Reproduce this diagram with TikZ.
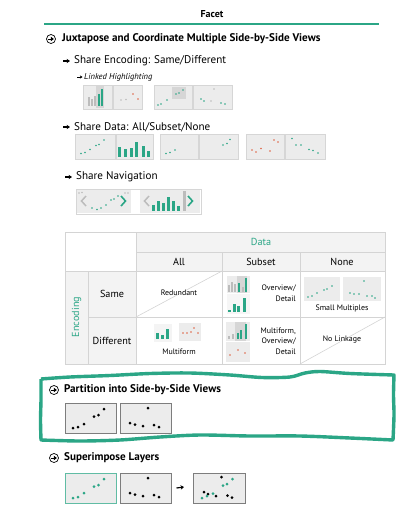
\documentclass[tikz,border=0pt]{standalone}
\usepackage{fontspec}
\setmainfont{PT Sans}
\usetikzlibrary{arrows.meta}
\definecolor{fgreen}{RGB}{43,166,134}
\definecolor{thumbbg}{RGB}{236,236,236}
\definecolor{thumbline}{RGB}{214,214,214}
\definecolor{hdrbg}{RGB}{243,243,243}
\definecolor{gridc}{RGB}{212,212,212}
\definecolor{orng}{RGB}{222,100,70}
\definecolor{ltg}{RGB}{188,188,188}
\definecolor{boxline}{RGB}{125,125,125}
\definecolor{hilite}{RGB}{214,214,214}
\tikzset{
  h1/.style={anchor=west,inner sep=0,font=\bfseries\fontsize{11.1}{13}\selectfont},
  h2/.style={anchor=west,inner sep=0,font=\fontsize{11.1}{13}\selectfont},
  tiny/.style={inner sep=0,font=\fontsize{7.9}{9}\selectfont},
  cellt/.style={inner sep=0,font=\fontsize{10.2}{12}\selectfont},
  panel/.style={fill=thumbbg,draw=thumbline,line width=0.6pt},
  bigbox/.style={fill=thumbbg,draw=boxline,line width=0.9pt},
  gridline/.style={draw=gridc,line width=0.6pt},
  icon/.style={line width=0.7pt},
  smallarrow/.style={-{Stealth[length=3.4pt,width=4.4pt]},line width=1.2pt}
}
\newcommand\circicon[2]{%
  \draw[icon] (#1,#2) circle (4.5);
  \draw[line width=0.8pt] (#1-2.6,#2) -- (#1+0.6,#2);
  \fill (#1+2.9,#2) -- (#1-0.2,#2-2.3) -- (#1-0.2,#2+2.3) -- cycle;}
\newcommand\dotset[3]{\foreach \p in {#3} \fill[#1] \p circle (#2);}
\begin{document}
\begin{tikzpicture}[x=1pt,y=-1pt]
\useasboundingbox (0,0) rectangle (416,523);
\fill[white] (0,0) rectangle (416,523);

% title
\node[inner sep=0,font=\bfseries\fontsize{10}{11}\selectfont] (title) at (212,14) {Facet};
\draw[fgreen,line width=1.1pt] (44,24) -- (379,24);

% Juxtapose
\circicon{51}{39}
\node[h1] (jux) at (62,39) {Juxtapose and Coordinate Multiple Side-by-Side Views};

% Share encoding
\draw[smallarrow] (63,61) -- (70,61);
\node[h2] (enc) at (74,61) {Share Encoding: Same/Different};
\draw[-{Stealth[length=2.6pt,width=3.2pt]},line width=0.9pt] (77,77) -- (82.5,77);
\node[inner sep=0,anchor=west,font=\itshape\fontsize{8.5}{9}\selectfont] (lh) at (84,77) {Linked Highlighting};

% linked highlighting box 1
\draw[panel] (83,85) rectangle (112.5,109);
\draw[panel] (113.5,85) rectangle (142,109);
\fill[hilite] (96,86) rectangle (104,108);
\foreach \x/\h in {88/9,91/7,94/10} \fill[ltg] (\x,106) rectangle ++(2,-\h);
\foreach \x/\h in {97.5/12,101/17} \fill[fgreen] (\x,106) rectangle ++(2.2,-\h);
\dotset{ltg}{0.9}{(121,100),(126,99.5)}
\dotset{orng}{0.9}{(133,94),(138,99)}
% linked highlighting box 2
\draw[panel] (154,85) rectangle (192.5,109);
\draw[panel] (193.5,85) rectangle (232,109);
\fill[hilite] (172,87) rectangle (186,99);
\dotset{fgreen}{0.9}{(158,105),(161,104),(167,100),(176,94),(179,93),(183,90)}
\dotset{fgreen}{0.9}{(201,99),(204,101),(221,103),(225,104)}
\dotset{ltg}{0.9}{(214,89),(211,101)}

% Share Data
\draw[smallarrow] (63,127) -- (70,127);
\node[h2] (data) at (74,127) {Share Data: All/Subset/None};
\draw[panel] (75,134) rectangle (115.5,159);
\draw[panel] (116.5,134) rectangle (153,159);
\dotset{fgreen}{0.9}{(81,153.5),(85,152.5),(90,149.5),(96,145.5),(99,144.5),(104,140)}
\foreach \x/\h in {118/10,124/7.7,130/9,135/15,141.5/10.7,147/6} \fill[fgreen] (\x,156.7) rectangle ++(3,-\h);
\draw[panel] (160,134) rectangle (198.5,159);
\draw[panel] (199.5,134) rectangle (238,159);
\dotset{fgreen}{0.9}{(166,153.5),(170,152.5),(175,150)}
\dotset{fgreen}{0.9}{(223,145),(227,143.5),(230,139.5)}
\draw[panel] (246,134) rectangle (284.5,159);
\draw[panel] (285.5,134) rectangle (325,159);
\dotset{orng}{0.9}{(252,150),(256,152),(261,148.5),(270,151),(274,140),(278,142)}
\dotset{fgreen}{0.9}{(292,138.5),(296,145),(301,145),(309,149.5),(313,150.5),(318,153)}

% Share Navigation
\draw[smallarrow] (65,177) -- (72,177);
\node[h2] (nav) at (76,177) {Share Navigation};
\draw[draw=thumbline,fill=white,line width=0.6pt] (76,189) rectangle (201,214);
\fill[thumbbg] (77,190) rectangle (131,213);
\fill[thumbbg] (140,190) rectangle (200,213);
\draw[ltg,line width=1.5pt] (86,196) -- (81.5,201) -- (86,206);
\draw[fgreen,line width=1.6pt] (121,196) -- (125.5,201) -- (121,206);
\dotset{ltg}{0.8}{(79,193),(82,192.5),(125,193),(128,193)}
\dotset{fgreen}{0.9}{(92,208),(97,209.5),(101,208),(106,205),(111,200),(114,199),(118,196)}
\draw[ltg,line width=1.5pt] (149,196) -- (144.5,201) -- (149,206);
\foreach \x/\h in {152/6,157/10,162/8,167/14,172/10,177/5} \fill[fgreen] (\x,211) rectangle ++(3,-\h);
\fill[ltg] (183,191) rectangle (186,211);
\draw[fgreen,line width=1.6pt] (188,196) -- (192.5,201) -- (188,206);

% Table
\fill[hdrbg] (136,232) rectangle (385,271);
\fill[hdrbg] (65,271) rectangle (136,364);
\draw[gridline] (65,232) rectangle (385,364);
\draw[gridline] (136,252) -- (385,252);
\draw[gridline] (65,271) -- (385,271);
\draw[gridline] (88,317) -- (385,317);
\draw[gridline] (136,232) -- (136,364);
\draw[gridline] (222,252) -- (222,364);
\draw[gridline] (300,252) -- (300,364);
\draw[gridline] (88,271) -- (88,364);
\draw[gridline] (136,317) -- (222,271);
\draw[gridline] (300,364) -- (385,317);
\node[cellt,text=fgreen] (tdata) at (261,242) {Data};
\node[cellt] (tall) at (179,262) {All};
\node[cellt] (tsub) at (261,262) {Subset};
\node[cellt] (tnone) at (342,262) {None};
\node[cellt,text=fgreen,rotate=90] (tenc) at (76.5,317) {Encoding};
\node[cellt] (tsame) at (112,294) {Same};
\node[cellt] (tdiff) at (112,341) {Different};
\node[tiny] (tred) at (179,293) {Redundant};
% same/subset
\fill[thumbbg] (227,276) rectangle (250,293);
\fill[hilite] (237,276) rectangle (247,293);
\foreach \x/\h in {228/7,231/10,234/8,242/5} \fill[ltg] (\x,292) rectangle ++(2,-\h);
\foreach \x/\h in {238/9,245/14} \fill[fgreen] (\x,292) rectangle ++(2,-\h);
\fill[thumbbg!50] (227,294) rectangle (250,314);
\foreach \x/\h in {228/2.5,233/8,237/6,243/14} \fill[fgreen] (\x,312) rectangle ++(2.5,-\h);
\node[tiny,anchor=east] (tov1) at (296,288) {Overview/};
\node[tiny,anchor=east] (tdet1) at (296,299) {Detail};
% same/none
\fill[thumbbg] (304,277) rectangle (340,301);
\fill[thumbbg] (343,277) rectangle (381,301);
\dotset{fgreen}{0.8}{(308,297),(312,296),(317,293),(324,290),(327,289),(332,286)}
\dotset{fgreen}{0.8}{(364,281),(350,293),(354,294),(359,294),(367,296),(372,296),(375,298)}
\node[tiny] (tsm) at (342,308) {Small Multiples};
% different/all
\fill[thumbbg!60] (154,324) rectangle (172,342);
\foreach \x/\h in {156/6,161/4.5,166/10} \fill[fgreen] (\x,339) rectangle ++(3,-\h);
\fill[thumbbg] (179,323) rectangle (201,341);
\dotset{orng}{0.8}{(183,333),(187,333),(191,332),(194,328),(198,333)}
\node[tiny] (tmf) at (179,352) {Multiform};
% different/subset
\fill[thumbbg] (226,322) rectangle (250,341);
\fill[hilite] (235,322) rectangle (246,341);
\foreach \x/\h in {228/3,232/5} \fill[ltg] (\x,339) rectangle ++(2,-\h);
\foreach \x/\h in {237/6,240/9,245/15} \fill[fgreen] (\x,339) rectangle ++(2,-\h);
\fill[thumbbg] (226,342) rectangle (250,362);
\dotset{orng}{0.8}{(230,355),(238,350),(245,353)}
\node[tiny,anchor=east] (tmf2) at (296,331) {Multiform,};
\node[tiny,anchor=east] (tov2) at (296,341.5) {Overview/};
\node[tiny,anchor=east] (tdet2) at (296,352) {Detail};
\node[tiny] (tnl) at (342,340) {No Linkage};

% wavy highlight box
\draw[fgreen,line width=3.4pt,line join=round] plot[smooth] coordinates {
 (41,379) (70,377) (110,375.5) (150,373.5) (190,373) (230,375) (262,377.5) (290,377) (305,373) (320,371.5) (350,373.5) (394,375)}
 -- plot[smooth] coordinates {(394,375) (393.5,395) (394,415) (393,440)}
 -- plot[smooth] coordinates {(393,440) (350,438) (300,436) (250,436) (200,435) (160,437) (120,440) (80,441) (41,440)}
 -- plot[smooth] coordinates {(41,440) (40.5,420) (41,400) (41,379)};

% Partition
\circicon{54}{390}
\node[h1] (part) at (64,390) {Partition into Side-by-Side Views};
\draw[bigbox] (65.5,403.5) rectangle (116,433);
\draw[bigbox] (120.5,403.5) rectangle (171,433);
\dotset{black}{1.5}{(73,428),(78,427),(84,424),(94,416.5),(98.5,415),(104,409)}
\dotset{black}{1.5}{(148,408),(130,423),(135,424.5),(143,426),(154,425),(159,427)}

% Superimpose
\circicon{54}{458}
\node[h1] (sup) at (64,458) {Superimpose Layers};
\draw[bigbox,draw=fgreen!75] (65.5,473.5) rectangle (116,503);
\draw[bigbox] (120.5,473.5) rectangle (171,503);
\draw[bigbox] (193.5,473.5) rectangle (245,503);
\dotset{fgreen}{1.5}{(73,498),(78,497),(84,493),(94,486.5),(98.5,485),(104,479)}
\dotset{black}{1.5}{(148,478),(130,493),(135,494.5),(143,496),(154,495),(159,497)}
\draw[smallarrow] (176.5,488) -- (184,487);
\dotset{black}{1.5}{(221.5,477),(204,492),(208,494),(216,496),(227.5,495.5),(232,497.5)}
\dotset{fgreen}{1.5}{(202,498),(207,496),(213,493.5),(223,485.5),(227,484),(232.5,479)}
\end{tikzpicture}
\end{document}
